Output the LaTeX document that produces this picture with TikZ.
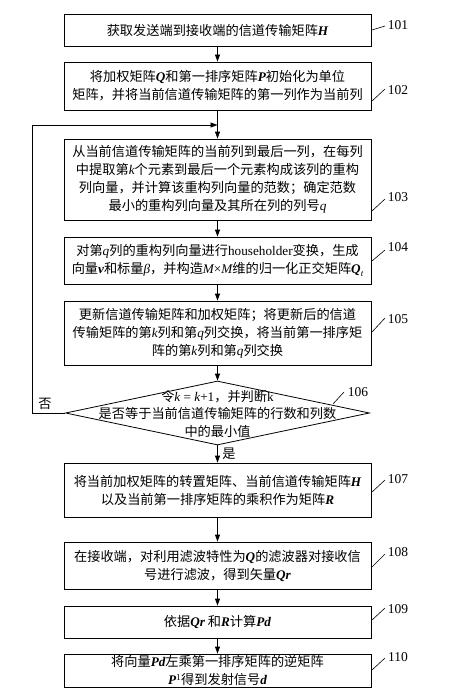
\documentclass[tikz,border=0pt]{standalone}
\usepackage{fontspec}
\setmainfont{Noto Sans CJK SC}
\newfontfamily\lat{Liberation Serif}
\usetikzlibrary{arrows.meta,shapes.geometric}
\newcommand{\mv}[1]{{\lat\bfseries\itshape #1}}
\newcommand{\iv}[1]{{\lat\itshape #1}}
\begin{document}
\begin{tikzpicture}[x=1pt,y=-1pt,
  box/.style={draw, line width=0.8pt, minimum width=307pt, inner sep=0pt, align=center, font=\fontsize{13.2}{18}\selectfont},
  txt/.style={align=center, inner sep=0pt, font=\fontsize{13.2}{17.5}\selectfont},
  arr/.style={-{Triangle[length=7pt,width=5pt]}, line width=0.8pt},
  num/.style={font=\lat\fontsize{13.5}{15}\selectfont, inner sep=0pt},
  lead/.style={line width=0.6pt}]
\useasboundingbox (0,0) rectangle (474,698);
\fill[white] (0,0) rectangle (474,698);

\node[box, minimum height=32pt] (b101) at (217.5,30) {获取发送端到接收端的信道传输矩阵\mv{H}};
\node[box, minimum height=48pt] (b102) at (217.5,86) {将加权矩阵\mv{Q}和第一排序矩阵\mv{P}初始化为单位\\矩阵，并将当前信道传输矩阵的第一列作为当前列};
\node[box, minimum height=81pt] (b103) at (217.5,179.5) {从当前信道传输矩阵的当前列到最后一列，在每列\\中提取第\iv{k}个元素到最后一个元素构成该列的重构\\列向量，并计算该重构列向量的范数；确定范数\\最小的重构列向量及其所在列的列号\iv{q}};
\node[box, minimum height=47pt] (b104) at (217.5,260.5) {对第\iv{q}列的重构列向量进行{\lat householder}变换，生成\\向量\mv{v}和标量\iv{β}，并构造\iv{M}{\lat ×}\iv{M}维的归一化正交矩阵\mv{Q}\raisebox{-0.4ex}{\lat\itshape\fontsize{9}{10}\selectfont t}};
\node[box, minimum height=64pt] (b105) at (217.5,333) {更新信道传输矩阵和加权矩阵；将更新后的信道\\传输矩阵的第\iv{k}列和第\iv{q}列交换，将当前第一排序矩\\阵的第\iv{k}列和第\iv{q}列交换};
\node[draw, diamond, line width=0.8pt, minimum width=304pt, minimum height=64pt, inner sep=0pt] (d106) at (217.5,413) {};
\node[txt] (t106) at (217.5,413.5) {令\iv{k}{\lat\ =\ }\iv{k}{\lat +1}，并判断{\lat k}\\是否等于当前信道传输矩阵的行数和列数\\中的最小值};
\node[box, minimum height=54pt] (b107) at (217.5,490) {将当前加权矩阵的转置矩阵、当前信道传输矩阵\mv{H}\\以及当前第一排序矩阵的乘积作为矩阵\mv{R}};
\node[box, minimum height=47pt] (b108) at (217.5,565.5) {在接收端，对利用滤波特性为\mv{Q}的滤波器对接收信\\号进行滤波，得到矢量\mv{Qr}};
\node[box, minimum height=32pt] (b109) at (217.5,622) {依据\mv{Qr} 和\mv{R}计算\mv{Pd}};
\node[box, minimum height=33pt] (b110) at (217.5,670.5) {将向量\mv{Pd}左乘第一排序矩阵的逆矩阵\\\mv{P}\textsuperscript{\lat 1}得到发射信号\mv{d}};

% arrows
\draw[arr] (b101) -- (b102);
\draw[arr] (b102) -- (b103);
\draw[arr] (b103) -- (b104);
\draw[arr] (b104) -- (b105);
\draw[arr] (b105) -- (d106);
\draw[arr] (d106) -- (b107);
\draw[arr] (b107) -- (b108);
\draw[arr] (b108) -- (b109);
\draw[arr] (b109) -- (b110);

% loop back
\coordinate (j) at (217.5,125);
\draw[arr] (d106.west) -- (32,413) -- (32,125) -- (j);
\node[txt] (no) at (45,404) {否};
\node[txt] (yes) at (229,454) {是};

% step numbers
\node[num] (n101) at (398,25) {101};
\node[num] (n102) at (398,90) {102};
\node[num] (n103) at (398,197) {103};
\node[num] (n104) at (398,247) {104};
\node[num] (n105) at (398,319) {105};
\node[num] (n106) at (358,392) {106};
\node[num] (n107) at (398,479) {107};
\node[num] (n108) at (398,552) {108};
\node[num] (n109) at (398,609) {109};
\node[num] (n110) at (398,657) {110};

\coordinate (a101) at (372,30); \coordinate (c101) at (385,26);
\coordinate (a102) at (372,101); \coordinate (c102) at (385,89);
\coordinate (a103) at (372,211); \coordinate (c103) at (385,199);
\coordinate (a104) at (372,261); \coordinate (c104) at (385,250);
\coordinate (a105) at (372,332); \coordinate (c105) at (385,318);
\coordinate (a106) at (333,404); \coordinate (c106) at (344,392);
\coordinate (a107) at (372,492); \coordinate (c107) at (385,480);
\coordinate (a108) at (372,567); \coordinate (c108) at (385,554);
\coordinate (a109) at (372,620); \coordinate (c109) at (385,608);
\coordinate (a110) at (372,670); \coordinate (c110) at (385,658);
\foreach \i in {101,...,110}{\draw[lead] (a\i) -- (c\i);}
\end{tikzpicture}
\end{document}
